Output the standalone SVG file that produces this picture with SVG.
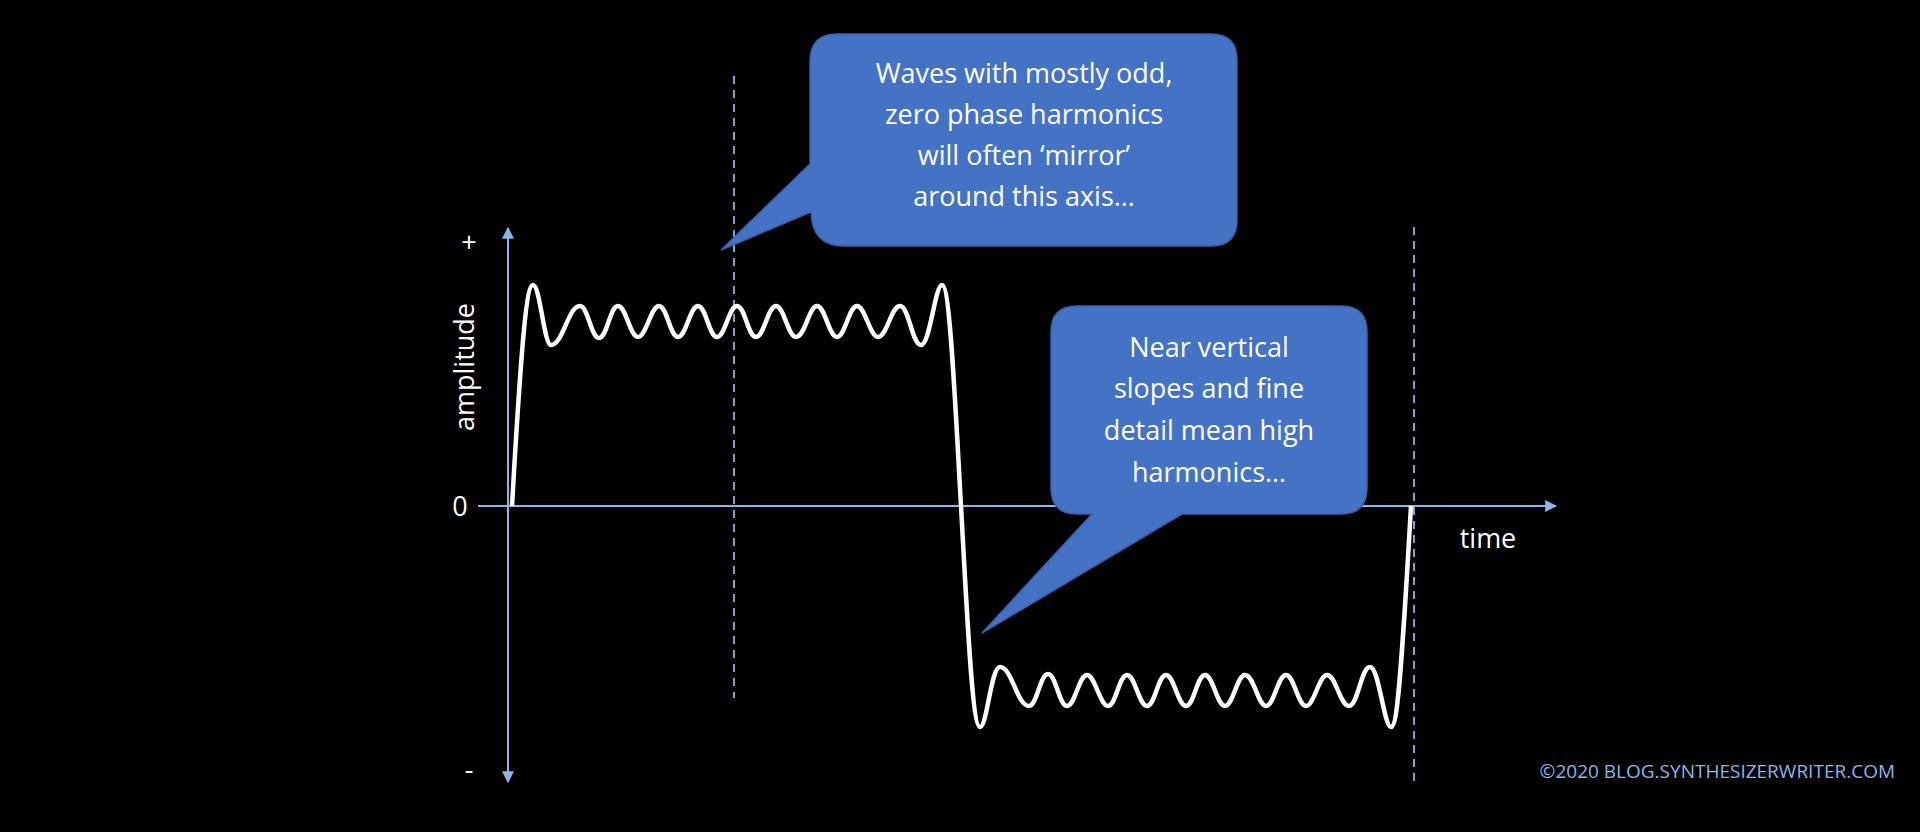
<svg xmlns="http://www.w3.org/2000/svg" width="1920" height="832" viewBox="0 0 1920 832">
<style>
.t{font-family:"Open Sans","Liberation Sans",sans-serif;fill:#fff}
.c{font-size:27px;text-anchor:middle}
.ax{stroke:#8FB4E8;stroke-width:2;fill:none}
.dash{stroke:#8FB4E8;stroke-width:1.8;stroke-dasharray:8 6}
.call{fill:#4472C4;stroke:#3A62AA;stroke-width:1.5}
</style>
<defs>
<marker id="ah" viewBox="0 0 10 10" refX="9" refY="5" markerWidth="6" markerHeight="6" orient="auto-start-reverse"><path d="M0,0L10,5L0,10z" fill="#8FB4E8"/></marker>
</defs>
<rect width="1920" height="832" fill="#000"/>
<g id="connectors">
<line class="ax" x1="508" y1="782" x2="508" y2="228" marker-start="url(#ah)" marker-end="url(#ah)"/>
<line class="ax" x1="478" y1="506" x2="1556" y2="506" marker-end="url(#ah)"/>
<line class="dash" x1="734" y1="76" x2="734" y2="698"/>
<line class="dash" x1="1414" y1="227" x2="1414" y2="784"/>
</g>
<g id="wave">
<path fill="none" stroke="#fff" stroke-width="4.5" stroke-linejoin="round" d="M512,506 C522,330 527,285 533,285 C540,285 544,345 551,345 C563,345 568,306 580,306 C588,306 591,338 599,338 C607,338 610,306 618,306 C626,306 630,337 638,337 C646,337 651,306 659,306 C667,306 670,337 678,337 C686,337 690,306 698,306 C706,306 709,337 717,337 C725,337 729,306 737,306 C745,306 748,337 756,337 C764,337 768,306 776,306 C784,306 788,337 796,337 C805,337 809,306 817,306 C825,306 829,337 837,337 C845,337 849,306 857,306 C865,306 870,337 878,337 C887,337 891,306 900,306 C909,306 912,345 921,345 C930,345 935,285 942,285 C950,285 955,400 961,506 C967,612 972,727 980,727 C987,727 991,667 1000,667 C1012,667 1017,706 1029,706 C1037,706 1040,674 1048,674 C1056,674 1059,706 1067,706 C1075,706 1079,675 1087,675 C1095,675 1100,706 1108,706 C1116,706 1119,675 1127,675 C1135,675 1139,706 1147,706 C1155,706 1158,675 1166,675 C1174,675 1178,706 1186,706 C1194,706 1197,675 1205,675 C1213,675 1217,706 1225,706 C1233,706 1237,675 1245,675 C1254,675 1258,706 1266,706 C1274,706 1278,675 1286,675 C1294,675 1298,706 1306,706 C1314,706 1319,675 1327,675 C1336,675 1340,706 1349,706 C1358,706 1361,667 1370,667 C1379,667 1384,727 1391,727 C1397,727 1401,682 1411,506"/>
</g>
<g id="callout1">
<path class="call" d="M837,34 H1211 Q1237,34 1237,60 V220 Q1237,246 1211,246 H844 Q812,246 811,212 L721,250 L810,164 V60 Q811,34 837,34 Z"/>
<text class="t c" x="1024" y="83">Waves with mostly odd,</text>
<text class="t c" x="1024" y="124">zero phase harmonics</text>
<text class="t c" x="1024" y="165">will often  ‘mirror’</text>
<text class="t c" x="1024" y="206">around this axis…</text>
</g>
<g id="callout2">
<path class="call" d="M1077,306 H1341 Q1367,306 1367,332 V488 Q1367,514 1341,514 H1182 L982,633 L1092,514 H1077 Q1051,514 1051,488 V332 Q1051,306 1077,306 Z"/>
<text class="t c" x="1209" y="357">Near vertical</text>
<text class="t c" x="1209" y="398">slopes and fine</text>
<text class="t c" x="1209" y="440">detail mean high</text>
<text class="t c" x="1209" y="482">harmonics…</text>
</g>
<g id="labels">
<text class="t" x="469" y="252" font-size="27" text-anchor="middle">+</text>
<text class="t" x="460" y="516" font-size="27" text-anchor="middle">0</text>
<text class="t" x="469" y="779" font-size="27" text-anchor="middle">-</text>
<text class="t" font-size="27" text-anchor="middle" transform="translate(474,367) rotate(-90)">amplitude</text>
<text class="t" x="1488" y="548" font-size="27" text-anchor="middle">time</text>
<text x="1895" y="778" font-size="19" text-anchor="end" font-family="Open Sans, Liberation Sans, sans-serif" fill="#8FB4E8">©2020 BLOG.SYNTHESIZERWRITER.COM</text>
</g>
</svg>
